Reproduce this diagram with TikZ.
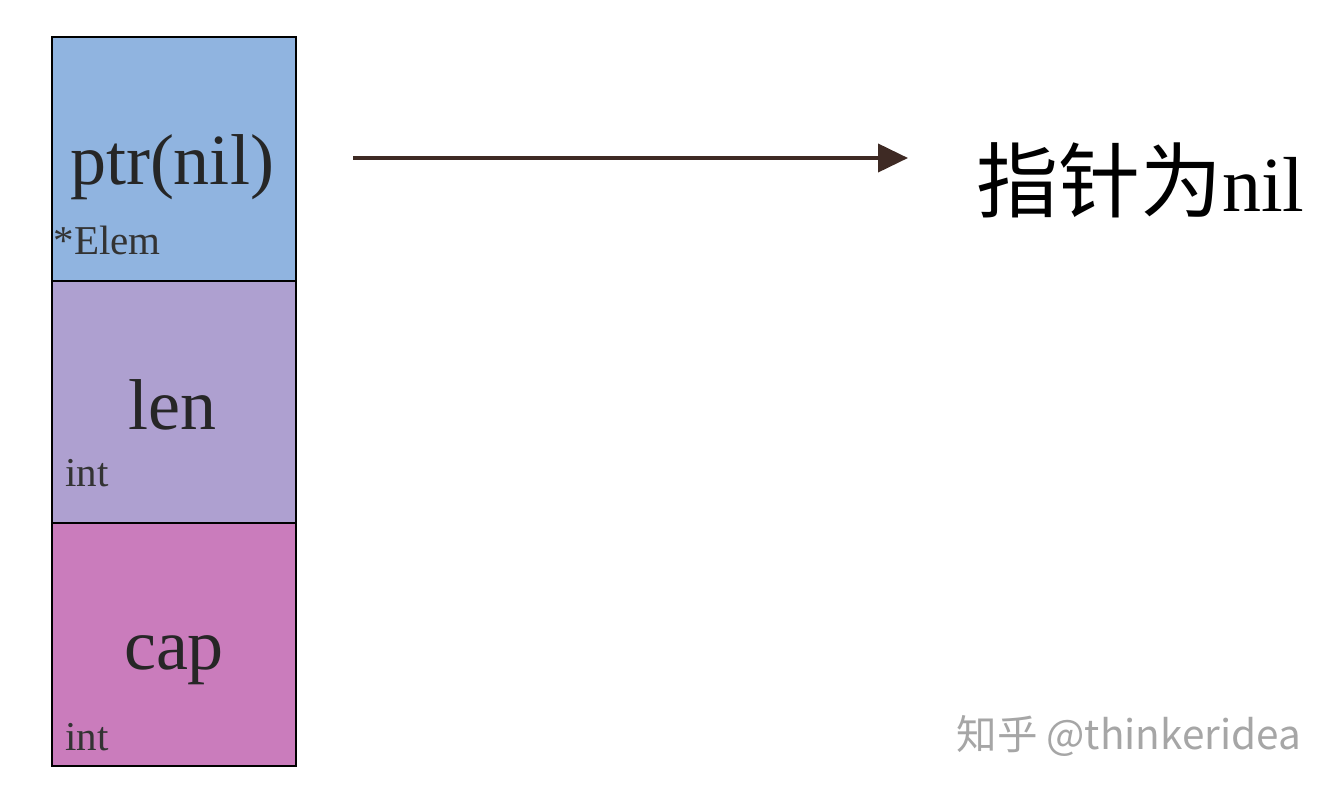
\documentclass[tikz,border=0pt]{standalone}
\usetikzlibrary{arrows.meta}
\usepackage{fontspec}
\setmainfont{Liberation Serif}
\newfontfamily\cjk{Noto Sans CJK SC}
\definecolor{cblue}{RGB}{144,180,224}
\definecolor{cpurp}{RGB}{174,160,208}
\definecolor{cpink}{RGB}{202,124,188}
\definecolor{carrow}{RGB}{62,42,36}
\tikzset{cell/.style={draw=black,line width=1.2pt},
 big/.style={font=\fontsize{72}{72}\selectfont,text=black!85},
 small/.style={font=\fontsize{41}{41}\selectfont,text=black!80,anchor=base west}}
\begin{document}
\begin{tikzpicture}[x=1pt,y=-1pt]
\path[use as bounding box] (0,0) rectangle (1340,790);
\filldraw[cell,fill=cblue] (52,37) rectangle (296,281);
\filldraw[cell,fill=cpurp] (52,281) rectangle (296,523);
\filldraw[cell,fill=cpink] (52,523) rectangle (296,766);
\node[big] (ptr) at (172,167) {ptr(nil)};
\node[small] (elem) at (50,254) {*Elem};
\node[big] (len) at (172,405) {len};
\node[small] (int1) at (62,486) {int};
\node[big] (cap) at (174,660) {cap};
\node[small] (int2) at (62,750) {int};
\coordinate (a) at (353,158);
\coordinate (b) at (908,158);
\node[anchor=west,inner sep=0pt] (t) at (976,180) {{\cjk\fontsize{82}{82}\selectfont 指针为}{\fontsize{78}{78}\selectfont nil}};
\draw[carrow,line width=4pt,-{Triangle[length=30pt,width=28pt]}] (a) -- (b);
\node[anchor=west,text=black!35,font=\cjk\fontsize{40.5}{40.5}\selectfont] (wm) at (953,736) {知乎 @thinkeridea};
\end{tikzpicture}
\end{document}
